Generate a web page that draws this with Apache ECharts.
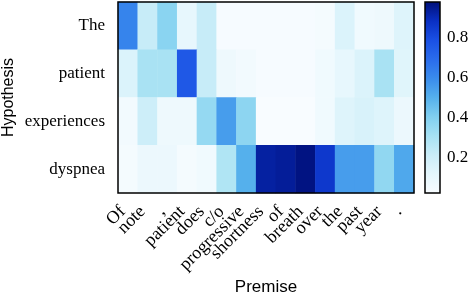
<!DOCTYPE html>
<html>
<head>
<meta charset="utf-8">
<script src="https://cdn.jsdelivr.net/npm/echarts@6/dist/echarts.min.js"></script>
<style>
  html, body { margin: 0; padding: 0; background: #fff; }
  #chart { width: 474px; height: 294px; }
</style>
</head>
<body>
<div id="chart"></div>
<script>
// labels
var hypothesis = ['The', 'patient', 'experiences', 'dyspnea'];
var premise = ['Of', 'note', ',', 'patient', 'does', 'c/o', 'progressive', 'shortness',
               'of', 'breath', 'over', 'the', 'past', 'year', '.'];

// attention weights, one row per hypothesis token
var rowThe         = [0.62, 0.22, 0.38, 0.10, 0.22, 0.03, 0.03, 0.03, 0.03, 0.03, 0.04, 0.15, 0.06, 0.07, 0.14];
var rowPatient     = [0.15, 0.30, 0.30, 0.76, 0.22, 0.07, 0.05, 0.03, 0.03, 0.03, 0.06, 0.10, 0.15, 0.30, 0.13];
var rowExperiences = [0.05, 0.20, 0.07, 0.07, 0.35, 0.55, 0.37, 0.02, 0.02, 0.02, 0.06, 0.14, 0.16, 0.14, 0.08];
var rowDyspnea     = [0.04, 0.08, 0.08, 0.04, 0.06, 0.28, 0.50, 0.93, 0.94, 0.97, 0.86, 0.55, 0.55, 0.36, 0.52];

var colorbarTicks = [0.2, 0.4, 0.6, 0.8];
var vMin = 0.02, vMax = 0.98;

var rows = [rowThe, rowPatient, rowExperiences, rowDyspnea];
var cells = [];
rows.forEach(function (row, y) {
    row.forEach(function (v, x) { cells.push([x, y, v]); });
});

// sky-blue colormap
var cmap = ['#f8fcff', '#e4f6fc', '#caedf8', '#a6e1f3', '#80cff0', '#55b0ec',
            '#3a8cec', '#2a6cec', '#1a50e4', '#0a30c4', '#00107a'];

var serif = '"Liberation Serif", "DejaVu Serif", serif';
var sans = '"Liberation Sans", Arial, sans-serif';

var chart = echarts.init(document.getElementById('chart'));
chart.setOption({
    backgroundColor: '#fff',
    animation: false,
    grid: [
        { left: 118, top: 2, width: 296, height: 191, outerBoundsMode: 'none', containLabel: false,
          show: true, borderColor: '#000', borderWidth: 1.5, z: 5 },
        { left: 425, top: 2, width: 15, height: 191, outerBoundsMode: 'none', containLabel: false,
          show: true, borderColor: '#000', borderWidth: 1.5, z: 5 }
    ],
    xAxis: [{
        type: 'category', gridIndex: 0, data: premise,
        name: 'Premise', nameLocation: 'middle', nameGap: 86, nameMoveOverlap: false,
        nameTextStyle: { fontFamily: sans, fontSize: 17, color: '#000' },
        axisLine: { show: false },
        axisTick: { alignWithLabel: true, length: 6, lineStyle: { color: '#000', width: 1.4 } },
        axisLabel: { rotate: 45, interval: 0, margin: 11, padding: [0, 7, 0, 0],
                     fontFamily: serif, fontSize: 18, color: '#000' },
        splitLine: { show: false }
    }, {
        type: 'value', gridIndex: 1, show: false, min: 0, max: 1
    }],
    yAxis: [{
        type: 'category', gridIndex: 0, data: hypothesis, inverse: true,
        name: 'Hypothesis', nameLocation: 'middle', nameGap: 101, nameRotate: 90, nameMoveOverlap: false,
        nameTextStyle: { fontFamily: sans, fontSize: 16, color: '#000' },
        axisLine: { show: false },
        axisTick: { alignWithLabel: true, length: 6, lineStyle: { color: '#000', width: 1.4 } },
        axisLabel: { margin: 13, fontFamily: serif, fontSize: 17, color: '#000' },
        splitLine: { show: false }
    }, {
        type: 'value', gridIndex: 1, position: 'right', min: vMin, max: vMax,
        axisLine: { show: false },
        axisTick: { show: true, length: 5, customValues: colorbarTicks, lineStyle: { color: '#000', width: 1.4 } },
        axisLabel: { margin: 7, customValues: colorbarTicks, fontFamily: serif, fontSize: 17, color: '#000',
                     formatter: function (v) { return v.toFixed(1); } },
        splitLine: { show: false }
    }],
    visualMap: {
        show: false, type: 'continuous', min: vMin, max: vMax, seriesIndex: 0,
        inRange: { color: cmap }
    },
    graphic: [{
        type: 'rect', left: 425, top: 2, z: 1,
        shape: { width: 15, height: 191 },
        style: {
            fill: new echarts.graphic.LinearGradient(0, 1, 0, 0, cmap.map(function (c, i) {
                return { offset: i / (cmap.length - 1), color: c };
            }))
        }
    }],
    series: [{
        type: 'heatmap', xAxisIndex: 0, yAxisIndex: 0, data: cells,
        itemStyle: { borderWidth: 0 },
        label: { show: false }
    }]
});
</script>
</body>
</html>
